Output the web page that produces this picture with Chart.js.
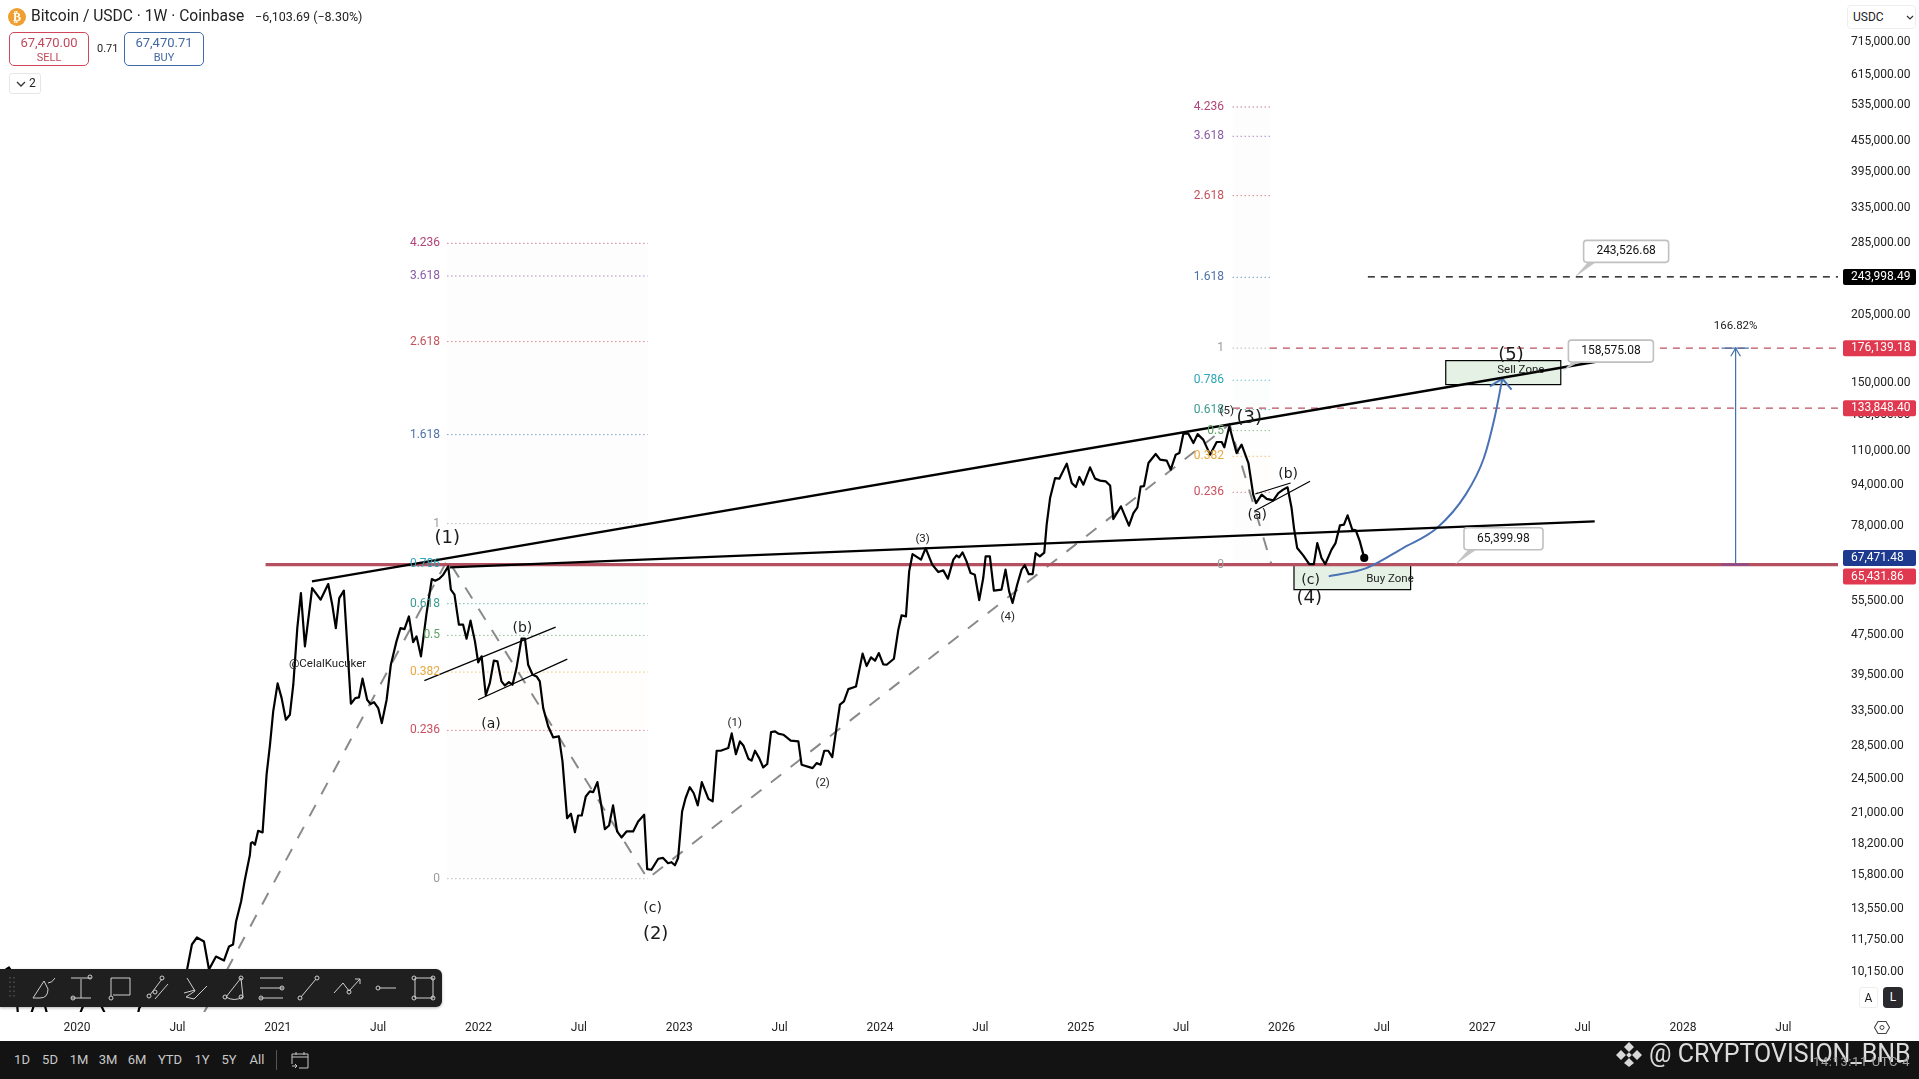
<!DOCTYPE html>
<html lang="en">
<head>
<meta charset="UTF-8">
<title>Bitcoin / USDC 1W</title>
<script src="https://cdn.jsdelivr.net/npm/chart.js"></script>
<style>
    html, body { margin: 0; padding: 0; background: #fff; width: 1919px; height: 1079px; overflow: hidden; font-family: Roboto, sans-serif; color: #222; }
    #grafico { position: absolute; left: 0; top: 0; width: 1919px; height: 1041px; }
    .abs { position: absolute; white-space: nowrap; }
    .quote { position: absolute; top: 32px; width: 78px; border: 1px solid; border-radius: 5px; text-align: center; font-size: 13px; line-height: 15px; padding-top: 2px; box-sizing: content-box; height: 30px; }
    .sell { left: 9px; border-color: #d0475c; color: #c2495b; }
    .buy { left: 124px; border-color: #3f6aa5; color: #4468a5; }
    .quote small { font-size: 11px; display: block; }
    #barra { position: absolute; left: 0; top: 1041px; width: 1919px; height: 38px; background: #131313; color: #c8c8c8; font-size: 13px; }
    #barra span { position: absolute; top: 11px; transform: translateX(-50%); }
    #ferramentas { position: absolute; left: 0; top: 969px; width: 442px; height: 38px; background: #1f1f1f; border-radius: 0 6px 6px 0; box-shadow: 0 1px 3px rgba(0,0,0,.3); }
</style>
</head>
<body>
<div id="grafico"><canvas id="myChartCanvas" width="1919" height="1041"></canvas></div>

<svg class="abs" style="left:8px;top:8px" width="18" height="18"><circle cx="9" cy="9" r="9" fill="#f0a030"/><text x="9" y="13" font-size="12" font-weight="700" fill="#fff" text-anchor="middle" font-family="Roboto">₿</text></svg>
<div class="abs" style="left:31px;top:7px;font-size:15.6px;">Bitcoin / USDC · 1W · Coinbase</div>
<div class="abs" style="left:255px;top:9px;font-size:12.5px;">−6,103.69 (−8.30%)</div>
<div class="quote sell">67,470.00<small>SELL</small></div>
<div class="abs" style="left:97px;top:42px;font-size:11px;">0.71</div>
<div class="quote buy">67,470.71<small>BUY</small></div>
<div class="abs" style="left:9px;top:73px;width:30px;height:19px;border:1px solid #e6e6e6;border-radius:3px;font-size:12px;line-height:19px;text-indent:19px;">2
    <svg class="abs" style="left:6px;top:6px" width="10" height="8"><path d="M1 2 L5 6 L9 2" stroke="#333" fill="none" stroke-width="1.3"/></svg>
</div>

<div class="abs" style="left:1847px;top:5px;width:69px;height:24px;border:1px solid #eee;border-radius:4px;box-sizing:border-box;font-size:12px;line-height:22px;text-indent:5px;background:#fff;">USDC
    <svg class="abs" style="left:58px;top:9px" width="8" height="6"><path d="M1 1 L4 4 L7 1" stroke="#333" fill="none" stroke-width="1.2"/></svg>
</div>
<div class="abs" style="left:1859px;top:987px;width:19px;height:21px;border:1px solid #eee;border-radius:3px;box-sizing:border-box;text-align:center;font-size:12px;line-height:20px;">A</div>
<div class="abs" style="left:1883px;top:987px;width:20px;height:21px;background:#2a2a2e;color:#fff;border-radius:4px;text-align:center;font-size:12px;line-height:21px;">L</div>
<svg class="abs" style="left:1874px;top:1020px" width="16" height="15"><path d="M4 1.5 H12 L15.5 7.5 L12 13.5 H4 L0.5 7.5 Z" fill="none" stroke="#444" stroke-width="1.1"/><circle cx="8" cy="7.5" r="2" fill="none" stroke="#444"/></svg>

<div id="ferramentas">
    <svg width="442" height="38" fill="none" stroke="#cfcfcf" stroke-width="1">
        <g stroke-dasharray="1.5 3" stroke="#666"><path d="M10 8 V30 M14 8 V30"/></g>
        <path d="M33 29 L44 12 L48 20 Q48 29 40 29 Z M48 14 Q52 14 55 9"/>
        <path d="M71 9 H91 M81 10 V29 M71 29 H91"/><circle cx="90" cy="8" r="2"/><circle cx="73" cy="29" r="2"/>
        <path d="M111 27 V9 H130 V26 H113"/><circle cx="111" cy="29" r="2"/>
        <path d="M150 26 L162 10 M155 30 L168 15"/><circle cx="149" cy="27" r="2"/><circle cx="162" cy="9" r="2"/><circle cx="155" cy="23" r="2"/>
        <path d="M187 9 L195 22 L186 28 L194 30 L207 17 M184 24 L195 21"/>
        <path d="M226 28 L241 9 L243 28 Q234 33 226 28"/><circle cx="225" cy="28" r="2"/><circle cx="241" cy="9" r="2"/><circle cx="241" cy="28" r="2"/>
        <path d="M260 9 H283 M260 19 H283 M260 29 H283"/><circle cx="282" cy="19" r="2"/><circle cx="261" cy="29" r="2"/>
        <path d="M301 28 L316 10"/><circle cx="300" cy="29" r="2"/><circle cx="317" cy="9" r="2"/>
        <path d="M334 24 L343 14 L349 22 L360 10 M355 10 H360 V15"/><circle cx="349" cy="23" r="2"/>
        <path d="M379 19 H396"/><circle cx="378" cy="19" r="2"/>
        <path d="M415 9 H433 V29 H415 Z"/><circle cx="414" cy="9" r="2"/><circle cx="433" cy="9" r="2"/><circle cx="414" cy="29" r="2"/><circle cx="433" cy="29" r="2"/>
    </svg>
</div>

<div id="barra">
    <span style="left:22px">1D</span><span style="left:50px">5D</span><span style="left:79px">1M</span>
    <span style="left:108px">3M</span><span style="left:137px">6M</span><span style="left:170px">YTD</span>
    <span style="left:202px">1Y</span><span style="left:229px">5Y</span><span style="left:257px">All</span>
    <div class="abs" style="left:276px;top:9px;width:1px;height:20px;background:#555"></div>
    <svg class="abs" style="left:290px;top:9px" width="20" height="20" fill="none" stroke="#c8c8c8"><path d="M2 14 V4 H18 V18 H9 M2 7 H18 M6 2 V5 M14 2 V5 M2 16 H7 M5 14 L7 16 L5 18"/></svg>
    <svg class="abs" style="left:1615px;top:0" width="28" height="26" fill="#d8d8d8"><path d="M14 1 L19 6 L14 11 L9 6 Z M6 9 L11 14 L6 19 L1 14 Z M22 9 L27 14 L22 19 L17 14 Z M14 17 L19 22 L14 26 L9 22 Z"/><rect x="12" y="12" width="4" height="4" transform="rotate(45 14 14)"/></svg>
    <div class="abs" style="left:1649px;top:-2px;font-size:25px;color:#dcdcdc;">@ CRYPTOVISION_BNB</div>
    <div class="abs" style="left:1813px;top:13px;font-size:13px;color:#a0a0a0;letter-spacing:.6px;">14:13:11 UTC-4</div>
</div>

<script>
// semanal (ano decimal, preco)
var closeYears = [
    2019.616,2019.661,2019.691,2019.705,2019.740,2019.780,2019.815,2019.850,2019.915,2019.990,
    2020.025,2020.074,2020.139,2020.189,2020.239,2020.274,2020.309,2020.363,2020.438,2020.513,
    2020.547,2020.572,2020.597,2020.632,2020.657,2020.692,2020.732,2020.757,2020.777,2020.792,
    2020.817,2020.836,2020.861,2020.866,2020.874,2020.886,2020.902,2020.924,2020.944,2020.961,
    2020.977,2020.999,2021.019,2021.040,2021.060,2021.077,2021.097,2021.115,2021.135,2021.171,
    2021.213,2021.251,2021.271,2021.289,2021.306,2021.329,2021.364,2021.386,2021.404,2021.422,
    2021.445,2021.462,2021.479,2021.500,2021.518,2021.542,2021.563,2021.591,2021.611,2021.631,
    2021.653,2021.674,2021.691,2021.713,2021.741,2021.767,2021.784,2021.804,2021.824,2021.849,
    2021.862,2021.880,2021.902,2021.923,2021.940,2021.960,2021.982,2021.998,2022.015,2022.036,
    2022.056,2022.076,2022.094,2022.114,2022.131,2022.151,2022.169,2022.189,2022.214,2022.231,
    2022.247,2022.269,2022.289,2022.305,2022.322,2022.347,2022.372,2022.400,2022.418,2022.441,
    2022.460,2022.480,2022.496,2022.514,2022.534,2022.554,2022.571,2022.592,2022.612,2022.629,
    2022.650,2022.670,2022.690,2022.712,2022.737,2022.770,2022.795,2022.825,2022.840,2022.861,
    2022.895,2022.919,2022.944,2022.961,2022.978,2022.994,2023.014,2023.031,2023.052,2023.072,
    2023.092,2023.112,2023.145,2023.166,2023.186,2023.206,2023.244,2023.261,2023.282,2023.302,
    2023.319,2023.344,2023.360,2023.377,2023.398,2023.418,2023.438,2023.457,2023.477,2023.493,
    2023.518,2023.535,2023.555,2023.593,2023.609,2023.664,2023.684,2023.704,2023.722,2023.742,
    2023.762,2023.784,2023.800,2023.820,2023.842,2023.880,2023.913,2023.933,2023.955,2023.975,
    2023.994,2024.016,2024.033,2024.069,2024.091,2024.107,2024.129,2024.145,2024.162,2024.204,
    2024.227,2024.260,2024.290,2024.315,2024.338,2024.365,2024.381,2024.394,2024.411,2024.431,
    2024.451,2024.472,2024.494,2024.514,2024.526,2024.547,2024.567,2024.605,2024.625,2024.643,
    2024.660,2024.683,2024.705,2024.721,2024.741,2024.760,2024.775,2024.796,2024.818,2024.830,
    2024.847,2024.872,2024.893,2024.930,2024.955,2024.975,2024.993,2025.013,2025.046,2025.071,
    2025.096,2025.124,2025.146,2025.162,2025.200,2025.240,2025.262,2025.282,2025.298,2025.315,
    2025.337,2025.373,2025.395,2025.428,2025.448,2025.473,2025.491,2025.511,2025.536,2025.561,
    2025.582,2025.610,2025.644,2025.677,2025.702,2025.715,2025.740,2025.776,2025.801,2025.835,
    2025.859,2025.873,2025.901,2025.926,2025.959,2025.984,2026.008,2026.030,2026.050,2026.062,
    2026.078,2026.108,2026.138,2026.161,2026.178,2026.199,2026.218,2026.249,2026.269,2026.291,
    2026.311,2026.329,2026.352,2026.370,2026.390,2026.412
];
var closeValues = [
    10080,10360,9942,8394,7731,8590,9499,8394,7554,7910,
    8590,9499,8394,6739,6150,7385,8590,9284,9499,9942,
    10220,11510,11884,11670,10266,10893,10698,11406,11510,12789,
    14014,15500,17351,18298,18384,18164,19367,19217,25023,28702,
    33432,37998,35526,32185,32931,37773,48940,57444,45002,58770,
    55737,59860,54470,48940,56141,58080,34630,35526,35640,38827,
    35270,34570,34885,33940,31690,35270,41390,46055,48940,48720,
    51625,45900,47120,43010,52420,61245,60800,61350,62490,64897,
    58350,57020,49710,49710,46620,50630,46055,41830,43010,36030,
    38050,42160,42027,38351,37640,38230,37773,40760,46620,46620,
    41390,39540,39230,38351,33940,31210,29680,29820,26594,20514,
    20932,19240,20767,20767,22652,23183,23110,24190,21640,19510,
    19840,21750,19305,18780,19305,19305,20209,20840,16250,16200,
    17040,17100,16690,16770,16540,17100,21155,22470,23640,22990,
    21750,24190,22410,22146,27925,27925,28270,30230,27490,29143,
    28615,26925,26690,27925,27000,25870,26280,30410,30508,30190,
    30050,29680,29240,29143,26200,25790,26390,26200,27925,27925,
    27130,31210,34470,34997,37020,37470,43540,41150,42810,42160,
    43660,41440,41390,42540,48590,51860,51625,63444,68670,66930,
    70575,65420,63240,63730,61350,66930,68270,67650,69210,66415,
    62950,62490,55640,61530,67970,67970,58080,58350,63940,57895,
    54880,59690,63940,65250,62620,62620,68990,67970,69120,78560,
    88720,97220,96960,103850,95030,93320,97730,94330,102100,96960,
    96080,95776,93990,80600,85430,78190,82840,85010,93480,93720,
    104140,108520,105780,105300,101040,108200,109020,119080,119080,114120,
    118860,115910,108200,114650,114650,111900,123180,109020,113280,104140,
    90110,86720,90110,88400,87800,90780,92200,93180,84760,77340,
    70575,68270,65600,65600,72210,67440,65600,70060,72210,78300,
    78560,81990,76830,76540,72780,67471.48
];

// eixos
var xTickValues = [2020,2020.5,2021,2021.5,2022,2022.5,2023,2023.5,2024,2024.5,2025,2025.5,2026,2026.5,2027,2027.5,2028,2028.5];
var xTickLabels = ['2020','Jul','2021','Jul','2022','Jul','2023','Jul','2024','Jul','2025','Jul','2026','Jul','2027','Jul','2028','Jul'];
var yTickValues = [715000,615000,535000,455000,395000,335000,285000,205000,150000,130000,110000,94000,78000,55500,47500,39500,33500,28500,24500,21000,18200,15800,13550,11750,10150];

// fibonacci
var fibLabels = ['4.236','3.618','2.618','1.618','1','0.786','0.618','0.5','0.382','0.236','0'];
var leftFibValues = [284500,245000,181500,118600,78920,65600,54730,47330,40020,30650,15550];
var rightFibValues = [530800,464200,353900,243500,176139,152060,133000,120780,107380,91075,65431];
var leftFibYears = [2021.843,2022.842];
var rightFibYears = [2025.756,2025.946];
var fibColors = ['#b0447a','#8a5aa8','#c2525a','#4a72a8','#9a9a9a','#2aa6b8','#3a9a90','#5f9f62','#eaa83e','#c9505f','#9a9a9a'];

// linhas desenhadas
var upperWedgeYears = [2021.170,2027.675];
var upperWedgeValues = [60606,168360];
var lowerWedgeYears = [2021.857,2027.560];
var lowerWedgeValues = [64620,79756];
var supportYears = [2020.939,2028.772];
var supportValues = [65431.86,65431.86];
var flagAUpperYears = [2021.730,2022.384];
var flagAUpperValues = [38480,49160];
var flagALowerYears = [2021.998,2022.442];
var flagALowerValues = [35270,42470];
var flagBUpperYears = [2025.869,2026.045];
var flagBUpperValues = [90360,95030];
var flagBLowerYears = [2025.864,2026.142];
var flagBLowerValues = [83490,95776];
var zigzagYears = [2020.627,2021.846,2022.842,2025.741,2025.950];
var zigzagValues = [8356,67020,15550,124320,65431];
var targetHighYears = [2026.430,2028.772];
var targetHighValues = [243998.49,243998.49];
var targetMidYears = [2025.942,2028.772];
var targetMidValues = [176139.18,176139.18];
var targetLowYears = [2025.758,2028.772];
var targetLowValues = [133848.40,133848.40];
var curveYears = [2026.235,2026.423,2026.605,2026.774,2026.917,2027.008,2027.061,2027.100];
var curveValues = [62000,64400,70575,77340,90110,106540,127950,153220];
var curveHeadYears = [2027.038,2027.100,2027.146];
var curveHeadValues = [147910,153220,145700];
var rangeYears = [2028.262,2028.262];
var rangeValues = [65431.86,176139.18];
var rangeHeadYears = [2028.238,2028.262,2028.286];
var rangeHeadValues = [169690,176139.18,169690];
var rangeTopYears = [2028.192,2028.328];
var rangeTopValues = [176139.18,176139.18];
var rangeBaseYears = [2028.192,2028.328];
var rangeBaseValues = [65431.86,65431.86];

// zonas
var zoneStartYears = [2026.062,2026.818];
var zoneEndYears = [2026.643,2027.391];
var zoneTopValues = [65431.86,166370];
var zoneBottomValues = [58350,149070];

// textos
var bigTexts = ['(1)','(2)','(3)','(4)','(5)'];
var bigTextYears = [2021.844,2022.882,2025.839,2026.138,2027.143];
var bigTextValues = [73680,12034,127950,56000,170450];
var midTexts = ['(a)','(b)','(c)','(a)','(b)','(c)'];
var midTextYears = [2022.062,2022.218,2022.867,2025.879,2026.033,2026.145];
var midTextValues = [31457,48940,13553,81990,98760,60800];
var smallTexts = ['(1)','(2)','(3)','(4)','(5)','Buy Zone','Sell Zone','166.82%','@CelalKucuker'];
var smallTextYears = [2023.276,2023.714,2024.212,2024.636,2025.727,2026.540,2027.192,2028.262,2021.248];
var smallTextValues = [31740,24080,73400,51440,131930,61160,159160,194640,41520];

// caixas de preco
var calloutTexts = ['243,526.68','158,575.08','65,399.98'];
var calloutYears = [2027.460,2027.399,2026.864];
var calloutValues = [243526.68,158575.08,65399.98];

// etiquetas do eixo
var tagValues = [243998.49,176139.18,133848.40,67471.48,65431.86];
var tagColors = ['#000000','#e0384f','#e0384f','#1d3a8e','#e0384f'];
var tagShift = [0,0,0,0,12];

function pontos(xs, ys) {
    var lista = [];
    for (var i = 0; i < xs.length; i++) {
        lista.push({ x: xs[i], y: ys[i] });
    }
    return lista;
}

function linha(xs, ys, cor, largura, dash) {
    return {
        data: pontos(xs, ys),
        borderColor: cor,
        borderWidth: largura,
        borderDash: dash || [],
        showLine: true,
        pointRadius: 0,
        tension: 0,
        fill: false
    };
}

function fibDatasets(anos, valores) {
    var lista = [];
    for (var i = 0; i < valores.length; i++) {
        var d = linha(anos, [valores[i], valores[i]], fibColors[i] + 'b0', 1, [1.5, 2.5]);
        if (i < valores.length - 1) {
            d.fill = '+1';
            d.backgroundColor = fibColors[i] + '03';
        }
        lista.push(d);
    }
    return lista;
}

var precoDataset = linha(closeYears, closeValues, '#000', 2.2);
precoDataset.pointBackgroundColor = '#000';
precoDataset.pointRadius = function (ctx) { return ctx.dataIndex === closeValues.length - 1 ? 3 : 0; };
precoDataset.borderJoinStyle = 'round';

var curvaDataset = linha(curveYears, curveValues, '#4a72b5', 2);
curvaDataset.cubicInterpolationMode = 'monotone';

var datasets = [
    precoDataset,
    linha(upperWedgeYears, upperWedgeValues, '#000', 2.4),
    linha(lowerWedgeYears, lowerWedgeValues, '#000', 2.2),
    linha(flagAUpperYears, flagAUpperValues, '#000', 1.2),
    linha(flagALowerYears, flagALowerValues, '#000', 1.2),
    linha(flagBUpperYears, flagBUpperValues, '#000', 1.2),
    linha(flagBLowerYears, flagBLowerValues, '#000', 1.2),
    curvaDataset,
    linha(curveHeadYears, curveHeadValues, '#4a72b5', 2),
    linha(rangeYears, rangeValues, '#3f72a8', 1.2),
    linha(rangeHeadYears, rangeHeadValues, '#3f72a8', 1.2),
    linha(rangeTopYears, rangeTopValues, '#3f72a8', 1.2),
    linha(rangeBaseYears, rangeBaseValues, '#8a4a90', 2),
    linha(supportYears, supportValues, '#b4505f', 3.4),
    linha(targetHighYears, targetHighValues, '#000', 1.3, [7, 6]),
    linha(targetMidYears, targetMidValues, '#b9505f', 1.2, [7, 6]),
    linha(targetLowYears, targetLowValues, '#b9505f', 1.2, [7, 6]),
    linha(zigzagYears, zigzagValues, '#8a8a8a', 2, [13, 12])
].concat(fibDatasets(leftFibYears, leftFibValues), fibDatasets(rightFibYears, rightFibValues));

function escreve(ctx, chart, textos, anos, valores, fonte, cor) {
    ctx.font = fonte;
    ctx.fillStyle = cor;
    ctx.textAlign = 'center';
    ctx.textBaseline = 'middle';
    for (var i = 0; i < textos.length; i++) {
        ctx.fillText(textos[i], chart.scales.x.getPixelForValue(anos[i]), chart.scales.y.getPixelForValue(valores[i]));
    }
}

var pluginZonas = {
    id: 'zonas',
    beforeDatasetsDraw: function (chart) {
        var ctx = chart.ctx;
        ctx.save();
        for (var i = 0; i < zoneStartYears.length; i++) {
            var x1 = chart.scales.x.getPixelForValue(zoneStartYears[i]);
            var x2 = chart.scales.x.getPixelForValue(zoneEndYears[i]);
            var y1 = chart.scales.y.getPixelForValue(zoneTopValues[i]);
            var y2 = chart.scales.y.getPixelForValue(zoneBottomValues[i]);
            ctx.fillStyle = '#e4f1e4';
            ctx.strokeStyle = '#000';
            ctx.lineWidth = 1.2;
            ctx.fillRect(x1, y1, x2 - x1, y2 - y1);
            ctx.strokeRect(x1, y1, x2 - x1, y2 - y1);
        }
        ctx.restore();
    }
};

var pluginTextos = {
    id: 'textos',
    afterDatasetsDraw: function (chart) {
        var ctx = chart.ctx;
        var escala = chart.scales;
        ctx.save();

        // rotulos fib
        ctx.font = '12px Roboto';
        ctx.textAlign = 'right';
        ctx.textBaseline = 'middle';
        for (var i = 0; i < fibLabels.length; i++) {
            ctx.fillStyle = fibColors[i];
            ctx.fillText(fibLabels[i], escala.x.getPixelForValue(2021.808), escala.y.getPixelForValue(leftFibValues[i]));
            ctx.fillText(fibLabels[i], escala.x.getPixelForValue(2025.713), escala.y.getPixelForValue(rightFibValues[i]));
        }

        escreve(ctx, chart, bigTexts, bigTextYears, bigTextValues, '18px "DejaVu Sans"', '#1a1a1a');
        escreve(ctx, chart, midTexts, midTextYears, midTextValues, '14px "DejaVu Sans"', '#1a1a1a');
        escreve(ctx, chart, smallTexts, smallTextYears, smallTextValues, '11.5px Roboto', '#222');

        // caixas com o preco
        var dx = [9, 6, 9], dy = [-37, -31, -37], larg = [85, 85, 79];
        for (var j = 0; j < calloutTexts.length; j++) {
            var ax = escala.x.getPixelForValue(calloutYears[j]);
            var ay = escala.y.getPixelForValue(calloutValues[j]);
            var bx = ax + dx[j], by = ay + dy[j];
            ctx.fillStyle = '#c4c4c4';
            ctx.beginPath();
            ctx.moveTo(ax, ay);
            ctx.lineTo(bx + 6, by + 20);
            ctx.lineTo(bx + 15, by + 20);
            ctx.closePath();
            ctx.fill();
            ctx.fillStyle = '#fff';
            ctx.strokeStyle = '#c0c0c0';
            ctx.lineWidth = 1.6;
            ctx.beginPath();
            ctx.roundRect(bx, by, larg[j], 22, 3);
            ctx.fill();
            ctx.stroke();
            ctx.fillStyle = '#111';
            ctx.font = '12px Roboto';
            ctx.textAlign = 'center';
            ctx.textBaseline = 'middle';
            ctx.fillText(calloutTexts[j], bx + larg[j] / 2, by + 11);
        }
        ctx.restore();
    },
    afterDraw: function (chart) {
        var ctx = chart.ctx;
        ctx.save();
        ctx.font = '12px Roboto';
        ctx.textAlign = 'left';
        ctx.textBaseline = 'middle';
        for (var i = 0; i < tagValues.length; i++) {
            var y = chart.scales.y.getPixelForValue(tagValues[i]) + tagShift[i];
            ctx.fillStyle = tagColors[i];
            ctx.beginPath();
            ctx.roundRect(1843, y - 8, 73, 16, 2);
            ctx.fill();
            ctx.fillStyle = '#fff';
            ctx.fillText(tagValues[i].toLocaleString('en-US', { minimumFractionDigits: 2 }), 1851, y);
        }
        ctx.restore();
    }
};

function semMargem(scale) {
    scale.paddingLeft = 0;
    scale.paddingRight = 0;
    scale.paddingTop = 0;
    scale.paddingBottom = 0;
}

var ctx = document.getElementById('myChartCanvas').getContext('2d');
var myChart = new Chart(ctx, {
    type: 'scatter',
    data: { datasets: datasets },
    plugins: [pluginZonas, pluginTextos],
    options: {
        responsive: false,
        animation: false,
        layout: { padding: 0, autoPadding: false },
        plugins: { legend: { display: false }, tooltip: { enabled: false }, title: { display: false } },
        scales: {
            x: {
                type: 'linear',
                min: 2019.616,
                max: 2028.772,
                grid: { display: false, drawTicks: false },
                border: { display: false },
                afterBuildTicks: function (scale) {
                    scale.ticks = xTickValues.map(function (v) { return { value: v }; });
                },
                afterFit: function (scale) { scale.height = 29; semMargem(scale); },
                ticks: {
                    autoSkip: false,
                    maxRotation: 0,
                    padding: 9,
                    color: '#222',
                    font: { family: 'Roboto', size: 12 },
                    callback: function (value, index) { return xTickLabels[index]; }
                }
            },
            y: {
                type: 'logarithmic',
                position: 'right',
                min: 8452,
                max: 866000,
                grid: { display: false, drawTicks: false },
                border: { display: false },
                afterBuildTicks: function (scale) {
                    scale.ticks = yTickValues.map(function (v) { return { value: v }; });
                },
                afterFit: function (scale) { scale.width = 81; semMargem(scale); },
                ticks: {
                    autoSkip: false,
                    padding: 13,
                    color: '#222',
                    font: { family: 'Roboto', size: 12 },
                    callback: function (value) {
                        return value.toLocaleString('en-US', { minimumFractionDigits: 2 });
                    }
                }
            }
        }
    }
});
</script>
</body>
</html>
